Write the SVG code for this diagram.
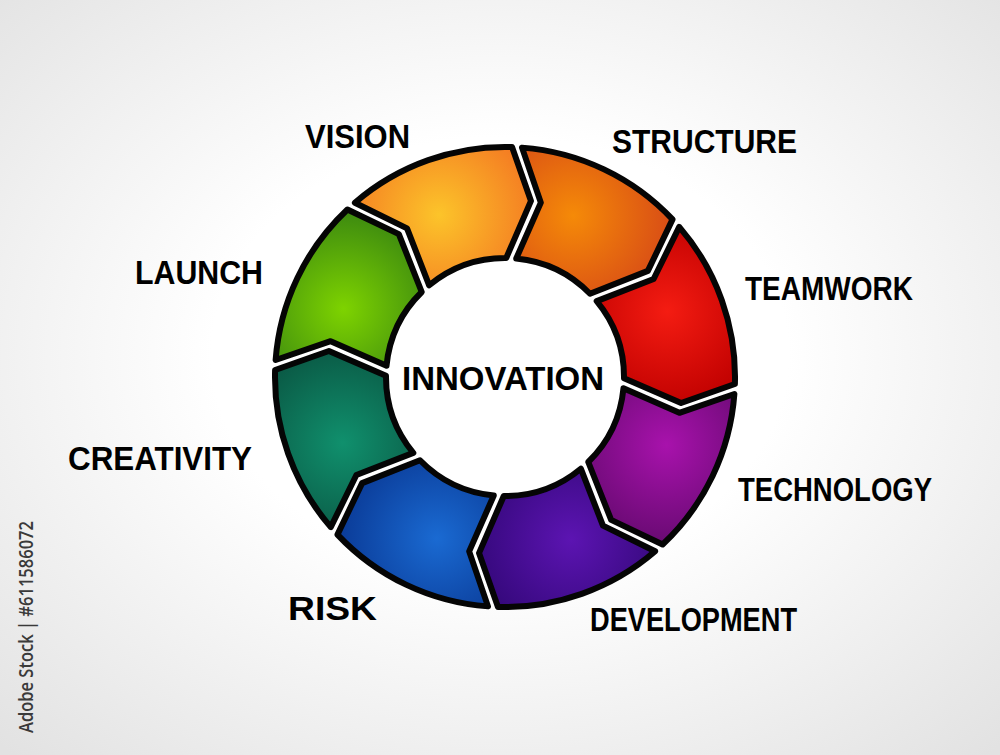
<svg xmlns="http://www.w3.org/2000/svg" width="1000" height="755" viewBox="0 0 1000 755">
<defs>
<radialGradient id="bg" cx="50%" cy="47%" r="72%">
<stop offset="0.4" stop-color="#ffffff"/>
<stop offset="1" stop-color="#e2e2e2"/>
</radialGradient>
<radialGradient id="gVision" gradientUnits="userSpaceOnUse" cx="-8" cy="-175" r="100">
<stop offset="0" stop-color="#fcc42a"/><stop offset="1" stop-color="#f47a22"/>
</radialGradient>
<radialGradient id="gStructure" gradientUnits="userSpaceOnUse" cx="-8" cy="-175" r="100">
<stop offset="0" stop-color="#f58a08"/><stop offset="1" stop-color="#d84c16"/>
</radialGradient>
<radialGradient id="gTeamwork" gradientUnits="userSpaceOnUse" cx="-8" cy="-175" r="100">
<stop offset="0" stop-color="#f41c12"/><stop offset="1" stop-color="#bf0000"/>
</radialGradient>
<radialGradient id="gTechnology" gradientUnits="userSpaceOnUse" cx="-8" cy="-175" r="100">
<stop offset="0" stop-color="#a812ac"/><stop offset="1" stop-color="#680a72"/>
</radialGradient>
<radialGradient id="gDevelopment" gradientUnits="userSpaceOnUse" cx="-8" cy="-175" r="100">
<stop offset="0" stop-color="#5c14b2"/><stop offset="1" stop-color="#34087a"/>
</radialGradient>
<radialGradient id="gRisk" gradientUnits="userSpaceOnUse" cx="-8" cy="-175" r="100">
<stop offset="0" stop-color="#1a6ad2"/><stop offset="1" stop-color="#0a3a96"/>
</radialGradient>
<radialGradient id="gCreativity" gradientUnits="userSpaceOnUse" cx="-8" cy="-175" r="100">
<stop offset="0" stop-color="#10906d"/><stop offset="1" stop-color="#0a5844"/>
</radialGradient>
<radialGradient id="gLaunch" gradientUnits="userSpaceOnUse" cx="-8" cy="-175" r="100">
<stop offset="0" stop-color="#7ed300"/><stop offset="1" stop-color="#3b8810"/>
</radialGradient>
</defs>
<style>
.seg { stroke: #050505; stroke-width: 6; stroke-linejoin: round; }
.lbl { font-family: "Liberation Sans", Arial, sans-serif; font-weight: bold; font-size: 33px; fill: #000000; }
.wm { font-family: "Open Sans", "Liberation Sans", sans-serif; font-size: 19px; font-weight: 600; fill: #3a3a3a; }
</style>
<rect x="0" y="0" width="1000" height="755" fill="url(#bg)"/>

<g id="connectors"></g>

<g id="vision" transform="translate(505 377) rotate(-19.5)">
<path class="seg" fill="url(#gVision)" d="M -83.38 -214.36 A 230 230 0 0 1 83.38 -214.36 L 83.27 -157.32 L 40.88 -111.76 A 119 119 0 0 0 -40.88 -111.76 L -42.73 -172.80 Z"/>
</g>
<g id="structure" transform="translate(505 377) rotate(25.5)">
<path class="seg" fill="url(#gStructure)" d="M -83.38 -214.36 A 230 230 0 0 1 83.38 -214.36 L 83.27 -157.32 L 40.88 -111.76 A 119 119 0 0 0 -40.88 -111.76 L -42.73 -172.80 Z"/>
</g>
<g id="teamwork" transform="translate(505 377) rotate(70.5)">
<path class="seg" fill="url(#gTeamwork)" d="M -83.38 -214.36 A 230 230 0 0 1 83.38 -214.36 L 83.27 -157.32 L 40.88 -111.76 A 119 119 0 0 0 -40.88 -111.76 L -42.73 -172.80 Z"/>
</g>
<g id="technology" transform="translate(505 377) rotate(115.5)">
<path class="seg" fill="url(#gTechnology)" d="M -83.38 -214.36 A 230 230 0 0 1 83.38 -214.36 L 83.27 -157.32 L 40.88 -111.76 A 119 119 0 0 0 -40.88 -111.76 L -42.73 -172.80 Z"/>
</g>
<g id="development" transform="translate(505 377) rotate(160.5)">
<path class="seg" fill="url(#gDevelopment)" d="M -83.38 -214.36 A 230 230 0 0 1 83.38 -214.36 L 83.27 -157.32 L 40.88 -111.76 A 119 119 0 0 0 -40.88 -111.76 L -42.73 -172.80 Z"/>
</g>
<g id="risk" transform="translate(505 377) rotate(205.5)">
<path class="seg" fill="url(#gRisk)" d="M -83.38 -214.36 A 230 230 0 0 1 83.38 -214.36 L 83.27 -157.32 L 40.88 -111.76 A 119 119 0 0 0 -40.88 -111.76 L -42.73 -172.80 Z"/>
</g>
<g id="creativity" transform="translate(505 377) rotate(250.5)">
<path class="seg" fill="url(#gCreativity)" d="M -83.38 -214.36 A 230 230 0 0 1 83.38 -214.36 L 83.27 -157.32 L 40.88 -111.76 A 119 119 0 0 0 -40.88 -111.76 L -42.73 -172.80 Z"/>
</g>
<g id="launch" transform="translate(505 377) rotate(295.5)">
<path class="seg" fill="url(#gLaunch)" d="M -83.38 -214.36 A 230 230 0 0 1 83.38 -214.36 L 83.27 -157.32 L 40.88 -111.76 A 119 119 0 0 0 -40.88 -111.76 L -42.73 -172.80 Z"/>
</g>

<g id="labels">
<text class="lbl" x="305" y="148" textLength="105" lengthAdjust="spacingAndGlyphs">VISION</text>
<text class="lbl" x="612" y="153" textLength="185" lengthAdjust="spacingAndGlyphs">STRUCTURE</text>
<text class="lbl" x="135" y="284" textLength="128" lengthAdjust="spacingAndGlyphs">LAUNCH</text>
<text class="lbl" x="745" y="300" textLength="168" lengthAdjust="spacingAndGlyphs">TEAMWORK</text>
<text class="lbl" x="402" y="390" textLength="202" lengthAdjust="spacingAndGlyphs">INNOVATION</text>
<text class="lbl" x="68" y="470" textLength="184" lengthAdjust="spacingAndGlyphs">CREATIVITY</text>
<text class="lbl" x="738" y="501" textLength="194" lengthAdjust="spacingAndGlyphs">TECHNOLOGY</text>
<text class="lbl" x="288" y="620" textLength="89" lengthAdjust="spacingAndGlyphs">RISK</text>
<text class="lbl" x="590" y="631" textLength="207" lengthAdjust="spacingAndGlyphs">DEVELOPMENT</text>
</g>

<text class="wm" transform="translate(33 733) rotate(-90)" textLength="212" lengthAdjust="spacingAndGlyphs">Adobe Stock | #611586072</text>
</svg>
